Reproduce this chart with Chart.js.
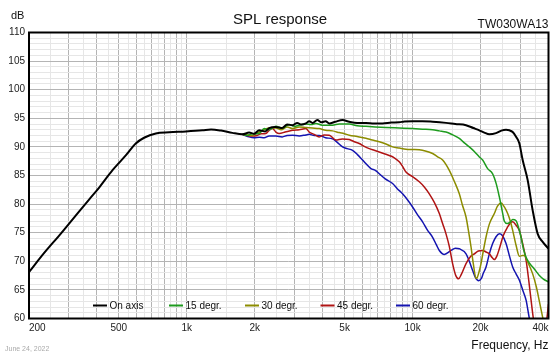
<!DOCTYPE html>
<html><head><meta charset="utf-8">
<script src="https://cdn.jsdelivr.net/npm/chart.js@4.4.1/dist/chart.umd.min.js"></script>
<style>html,body{margin:0;padding:0;background:#fff;}canvas{display:block;}</style>
</head><body>
<canvas id="c" width="560" height="356"></canvas>
<script>
// ---- data ----
const onAxisFreq = [200,234,272,316,369,409,468,501,539,594,647,729,835,990,1173,1281,1419,1592,1764,1888,1987,2092,2225,2316,2480,2645,2782,2938,3084,3214,3369,3484,3603,3786,3952,4117,4274,4545,4895,5241,5684,6215,6760,7362,8046,8730,9200,10000,11040,12266,14063,15463,17249,18592,19756,20783,21878,23426,24733,25943,26831,27760,28822,29720,30736,32346,34040,35826,37694,40000];
const onAxisDb = [68.1,71.5,74.5,77.6,80.8,82.9,85.9,87.2,88.6,90.6,91.6,92.35,92.55,92.7,92.9,93.05,92.85,92.45,92.2,92.5,92.3,92.9,92.7,93.3,93.5,93.3,93.9,93.8,94.2,93.9,94.1,94.5,94.2,94.7,94.3,94.5,94.1,94.4,94.7,94.4,94.2,94.2,94.1,94.1,94.25,94.3,94.45,94.5,94.5,94.4,94.2,94.0,93.8,93.3,92.9,92.5,92.2,92.4,92.85,93.0,92.9,92.6,91.7,90.6,87.7,84.2,78.9,74.8,73.4,72.2];

const deg15Freq = [1764,1851,1948,2092,2201,2316,2480,2645,2841,2989,3147,3369,3556,3730,3979,4420,4733,5241,5684,6215,6835,7622,8730,10000,11074,12266,13136,14063,15043,16106,16954,17838,18771,19756,20433,21500,22627,23496,24230,24981,25500,26293,27111,27760,28734,29421,30237,30958,31822,32907,34040,35345,36450,37957,40000];
const deg15Db = [92.2,92.0,92.3,92.35,93.2,93.0,93.6,93.3,93.9,93.6,93.8,94.0,93.9,94.1,93.8,93.8,94.0,94.0,93.7,93.6,93.5,93.4,93.3,93.2,93.1,93.0,92.8,92.6,92.1,91.5,90.7,90.0,89.2,88.25,87.7,86.2,85.3,83.5,81.25,78.7,77.0,76.6,76.9,77.3,77.1,76.0,74.2,72.2,70.7,69.7,69.0,68.2,67.5,66.9,66.4];

const deg30Freq = [1764,1851,1948,2092,2201,2316,2480,2618,2782,2938,3147,3369,3593,3858,4117,4420,4733,4983,5241,5684,6215,6629,7119,7622,8154,8730,9348,10000,10708,11385,12266,12870,13586,14545,15299,16106,16607,17249,17657,18153,18592,19099,19355,19651,20101,20574,21155,21878,23020,23735,24653,25500,26371,27111,27760,28734,29720,30643,31270,32242,34040,35345,36450,37694,40000];
const deg30Db = [92.2,92.1,92.0,92.6,93.0,93.3,93.3,93.0,93.5,93.2,93.5,93.4,93.3,93.2,92.9,92.8,92.5,92.3,92.05,91.8,91.5,91.2,90.9,90.5,90.0,89.8,89.6,89.55,89.5,89.3,88.85,88.3,87.7,85.9,84.0,81.8,79.9,77.75,75.5,72.5,69.5,67.0,67.2,68.0,69.6,71.8,74.25,76.5,78.35,79.6,80.2,79.5,78.35,77.0,75.4,72.8,70.9,71.0,71.0,70.0,67.8,65.5,63.0,60.2,55];

const deg45Freq = [1764,1851,1953,2049,2135,2240,2316,2396,2480,2566,2727,2938,3147,3369,3484,3666,3858,4061,4274,4576,4880,5241,5515,5803,6108,6428,6764,7119,7492,7884,8297,8730,9031,9348,10000,10708,11270,11858,12482,13136,13586,14063,14545,15043,15542,15994,16440,17249,18030,18771,19554,20433,21210,21878,22554,23020,23615,24230,25236,26371,27111,27760,28734,29720,30643,31822,32741,33487,34277,35345,36900,38350,39200,40000];
const deg45Db = [92.2,92.0,91.9,92.0,92.3,92.35,92.9,93.2,92.6,92.35,92.6,92.9,93.0,93.2,92.6,92.2,91.75,92.1,92.05,91.2,91.4,91.3,90.9,90.6,90.1,89.7,89.4,89.1,88.8,88.5,88.1,87.4,86.6,85.6,84.8,83.9,83.0,81.8,80.3,78.35,76.6,74.8,72.6,69.6,67.5,66.95,67.7,69.6,70.8,71.3,71.8,71.9,71.6,71.3,70.6,70.3,70.9,72.2,74.5,76.0,76.7,76.9,76.3,75.4,73.3,70.2,66.5,63.2,60.0,57,55,57,59.5,62.5];

const deg60Freq = [1764,1813,1888,1987,2092,2201,2316,2480,2645,2782,2938,3147,3369,3484,3666,3858,4117,4420,4637,4895,5135,5420,5684,6003,6234,6540,6835,7119,7568,8154,8555,9031,9474,10000,10491,11074,11620,12266,12738,13136,13822,14799,15463,16106,17249,17838,18452,18969,19615,20166,20574,21155,21878,22627,23426,24230,24981,25943,26831,27760,28734,29720,30736,31822,32907,34277];
const deg60Db = [92.2,92.0,91.75,91.6,91.7,91.6,91.9,91.9,91.75,92.0,92.05,91.9,92.1,92.2,92.0,92.0,91.6,91.4,90.8,90.0,89.7,89.4,88.7,87.7,87.0,86.2,85.9,85.3,84.4,83.6,82.7,81.8,80.8,79.5,78.2,76.9,75.5,74.2,72.9,71.9,71.2,71.9,72.3,72.2,71.3,70.0,68.4,67.2,66.6,67.0,67.9,69.0,71.3,73.1,74.3,74.8,74.5,73.1,71.0,69.0,67.8,66.7,65.0,63.2,60.0,57];

const seriesNames = ['On axis','15 degr.','30 degr.','45 degr.','60 degr.'];
const xTickValues = [200,500,1000,2000,5000,10000,20000,40000];
const xTickLabels = ['200','500','1k','2k','5k','10k','20k','40k'];
const yTickValues = [60,65,70,75,80,85,90,95,100,105,110];

// ---- styling ----
const FONT = "'Liberation Sans', Arial, Helvetica, sans-serif";
const seriesColors = ['#000000','#1e9b1e','#8c8c00','#b01414','#1414b0'];
const seriesWidths = [2,1.5,1.5,1.5,1.5];
const seriesFreqs = [onAxisFreq,deg15Freq,deg30Freq,deg45Freq,deg60Freq];
const seriesDbs = [onAxisDb,deg15Db,deg30Db,deg45Db,deg60Db];

// grid positions: 1..9.5 x decade, half steps are minor lines
const xGrid = [];
[100,1000,10000].forEach(d => { for (let m = 1; m < 10; m += 0.5) { const v = Math.round(m*d); if (v >= 200 && v <= 40000) xGrid.push(v); } });
const yGrid = [];
for (let v = 60; v <= 110; v++) yGrid.push(v);

function isMajorX(v){ const p = Math.pow(10, Math.floor(Math.log10(v)+1e-9)); const m = v/p; return Math.abs(m-Math.round(m)) < 1e-6; }

const datasets = seriesNames.map((name,i) => ({
  label: name,
  data: seriesFreqs[i].map((f,k) => ({x:f, y:seriesDbs[i][k]})),
  borderColor: seriesColors[i],
  borderWidth: seriesWidths[i],
  pointRadius: 0,
  fill: false,
  cubicInterpolationMode: 'monotone'
}));

const decor = {
  id: 'decor',
  beforeDraw(chart){
    const ctx = chart.ctx;
    ctx.save(); ctx.fillStyle = '#fff'; ctx.fillRect(0,0,chart.width,chart.height); ctx.restore();
  },
  afterDatasetsDraw(chart){
    const ctx = chart.ctx, a = chart.chartArea;
    ctx.save();
    // legend
    const lx = [93,169,245,320.5,396], ly = 305.5;
    ctx.font = '10px ' + FONT; ctx.textBaseline = 'middle'; ctx.textAlign = 'left';
    seriesNames.forEach((n,i) => {
      ctx.strokeStyle = seriesColors[i]; ctx.lineWidth = 2;
      ctx.beginPath(); ctx.moveTo(lx[i], ly); ctx.lineTo(lx[i]+14, ly); ctx.stroke();
      ctx.fillStyle = '#111'; ctx.fillText(n, lx[i]+16.5, ly+0.5);
    });
    // frame
    ctx.strokeStyle = '#000'; ctx.lineWidth = 2;
    ctx.strokeRect(a.left, a.top, a.right-a.left, a.bottom-a.top);
    ctx.restore();
  },
  afterDraw(chart){
    const ctx = chart.ctx;
    ctx.save();
    ctx.fillStyle = '#111'; ctx.textBaseline = 'alphabetic';
    ctx.font = '15px ' + FONT; ctx.textAlign = 'center'; ctx.fillText('SPL response', 280, 24);
    ctx.font = '11px ' + FONT; ctx.textAlign = 'left'; ctx.fillText('dB', 11, 19);
    ctx.font = '12px ' + FONT; ctx.textAlign = 'right'; ctx.fillText('TW030WA13', 548.5, 27.5);
    ctx.font = '12px ' + FONT; ctx.textAlign = 'right'; ctx.fillText('Frequency, Hz', 548.5, 349);
    ctx.fillStyle = '#aaa'; ctx.font = '7px ' + FONT; ctx.textAlign = 'left'; ctx.fillText('June 24, 2022', 5, 351);
    ctx.restore();
  }
};

new Chart(document.getElementById('c'), {
  type: 'line',
  data: { datasets },
  plugins: [decor],
  options: {
    responsive: false, animation: false, devicePixelRatio: 1,
    layout: { padding: { top: 32.5, right: 11.5, bottom: 0, left: 0 } },
    plugins: { legend: { display: false }, title: { display: false }, tooltip: { enabled: false } },
    scales: {
      x: {
        type: 'logarithmic', min: 200, max: 40000,
        afterBuildTicks: s => { s.ticks = xGrid.map(v => ({value: v})); },
        afterFit: s => { s.height = 37.5; },
        ticks: {
          autoSkip: false, maxRotation: 0, minRotation: 0, align: 'inner', padding: 4,
          color: '#222', font: { family: FONT, size: 10 },
          callback: v => { const i = xTickValues.indexOf(v); return i < 0 ? '' : xTickLabels[i]; }
        },
        grid: { drawTicks: false, lineWidth: 1, color: c => (c.tick && isMajorX(c.tick.value)) ? '#b4b4b4' : '#e6e6e6' },
        border: { display: false }
      },
      y: {
        type: 'linear', min: 60, max: 110,
        afterBuildTicks: s => { s.ticks = yGrid.map(v => ({value: v})); },
        afterFit: s => { s.width = 29; },
        ticks: {
          autoSkip: false, padding: 4, color: '#222', font: { family: FONT, size: 10 },
          callback: v => yTickValues.includes(v) ? String(v) : ''
        },
        grid: { drawTicks: false, lineWidth: 1, color: c => (c.tick && c.tick.value % 5 === 0) ? '#b4b4b4' : '#e6e6e6' },
        border: { display: false }
      }
    }
  }
});
</script>
</body></html>
